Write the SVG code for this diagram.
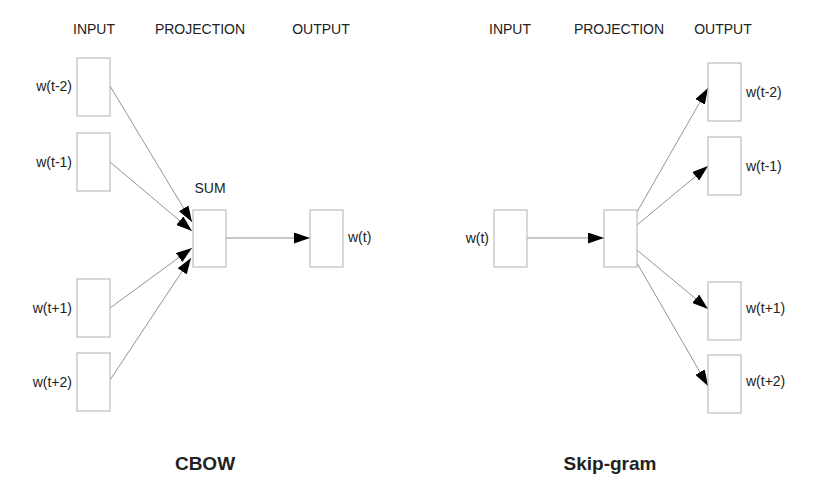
<svg xmlns="http://www.w3.org/2000/svg" width="828" height="501" viewBox="0 0 828 501">
<defs>
<marker id="ah" viewBox="0 0 10 10" refX="10" refY="5" markerWidth="16" markerHeight="11" markerUnits="userSpaceOnUse" orient="auto" preserveAspectRatio="none"><path d="M0,0 L10,5 L0,10 z" fill="#000"/></marker>
<style>
.box{fill:#fff;stroke:#b0b0b0;stroke-width:1}
.t{font-family:"Liberation Sans",Arial,sans-serif;font-size:14px;fill:#222}
.b{font-family:"Liberation Sans",Arial,sans-serif;font-size:19px;font-weight:bold;fill:#222}
.c line{stroke:#777;stroke-width:0.8;marker-end:url(#ah)}
</style>
</defs>
<rect width="828" height="501" fill="#fff"/>
<g id="headers">
<text class="t" x="94" y="34" text-anchor="middle">INPUT</text>
<text class="t" x="200" y="34" text-anchor="middle">PROJECTION</text>
<text class="t" x="321" y="34" text-anchor="middle">OUTPUT</text>
<text class="t" x="510" y="34" text-anchor="middle">INPUT</text>
<text class="t" x="619" y="34" text-anchor="middle">PROJECTION</text>
<text class="t" x="723" y="34" text-anchor="middle">OUTPUT</text>
</g>
<g class="c" id="connectors">
<line x1="110" y1="86" x2="192" y2="222"/>
<line x1="110" y1="162" x2="192" y2="231"/>
<line x1="110" y1="308" x2="192" y2="248"/>
<line x1="110" y1="380" x2="191" y2="258"/>
<line x1="226" y1="238" x2="310" y2="238"/>
<line x1="527" y1="238" x2="604" y2="238"/>
<line x1="637" y1="212" x2="708" y2="88"/>
<line x1="637" y1="225" x2="708" y2="166"/>
<line x1="637" y1="250" x2="708" y2="309"/>
<line x1="637" y1="263" x2="708" y2="386"/>
</g>
<g id="cbow-in1"><rect class="box" x="77" y="58" width="33" height="58"/><text class="t" x="72" y="91" text-anchor="end">w(t-2)</text></g>
<g id="cbow-in2"><rect class="box" x="77" y="133" width="33" height="58"/><text class="t" x="72" y="167" text-anchor="end">w(t-1)</text></g>
<g id="cbow-in3"><rect class="box" x="77" y="279" width="33" height="58"/><text class="t" x="72" y="313" text-anchor="end">w(t+1)</text></g>
<g id="cbow-in4"><rect class="box" x="77" y="353" width="33" height="58"/><text class="t" x="72" y="387" text-anchor="end">w(t+2)</text></g>
<g id="cbow-sum"><rect class="box" x="193" y="210" width="33" height="57"/><text class="t" x="210" y="193" text-anchor="middle">SUM</text></g>
<g id="cbow-out"><rect class="box" x="310" y="210" width="33" height="57"/><text class="t" x="348" y="242">w(t)</text></g>
<g id="sg-in"><rect class="box" x="494" y="210" width="33" height="57"/><text class="t" x="489" y="243" text-anchor="end">w(t)</text></g>
<g id="sg-proj"><rect class="box" x="604" y="210" width="33" height="57"/></g>
<g id="sg-out1"><rect class="box" x="708" y="63" width="33" height="58"/><text class="t" x="746" y="97">w(t-2)</text></g>
<g id="sg-out2"><rect class="box" x="708" y="137" width="33" height="58"/><text class="t" x="746" y="171">w(t-1)</text></g>
<g id="sg-out3"><rect class="box" x="708" y="282" width="33" height="58"/><text class="t" x="746" y="313">w(t+1)</text></g>
<g id="sg-out4"><rect class="box" x="708" y="355" width="33" height="58"/><text class="t" x="746" y="386">w(t+2)</text></g>
<g id="titles">
<text class="b" x="205" y="470" text-anchor="middle">CBOW</text>
<text class="b" x="610" y="470" text-anchor="middle">Skip-gram</text>
</g>
</svg>
